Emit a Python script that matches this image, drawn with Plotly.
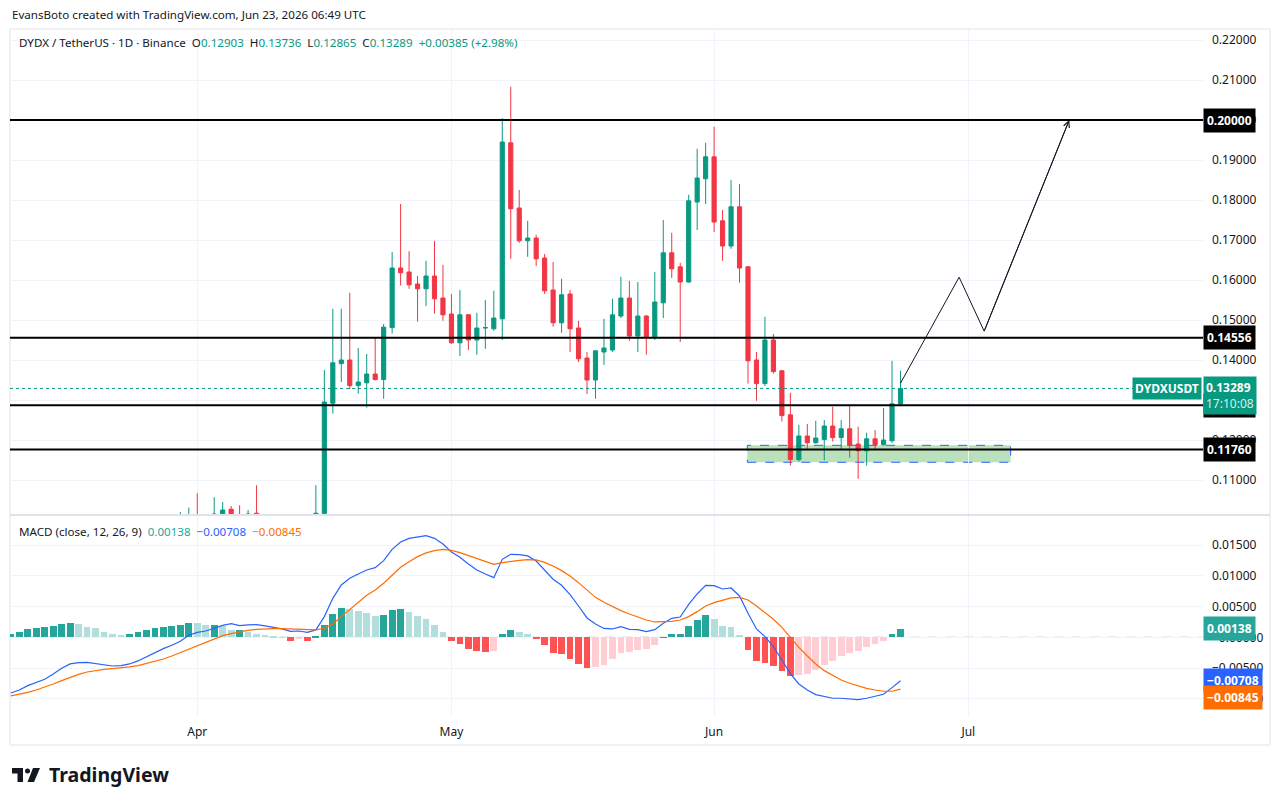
import plotly.graph_objects as go
import pandas as pd

# ---------------- data ----------------
dates = pd.date_range("2026-03-10", "2026-06-23", freq="D")

opens = [
    .0905, .0918, .0932, .0948, .0955, .0963, .0978, .0990, .0985, .0975, .0970, .0962, .0968, .0972, .0980, .0990, .0996, .0992, .1000, .0998, .1002, .1005,
    .1008, .0998, .1000, .1013, .1027, .1013, .1010, .1017, .1005, .0990, .0985, .0980, .0975, .0990, .0998, .1016, .1292, .1391, .1400, .1336, .1343, .1365, .1351, .1481, .1630, .1620, .1590, .1578, .1610, .1555,
    .1515, .1443, .1513, .1450, .1480, .1478, .1503, .1943, .1780, .1698, .1705, .1655, .1575, .1493, .1565, .1480, .1405, .1350, .1420, .1425, .1510, .1555, .1460, .1510, .1458, .1543, .1668, .1633, .1595, .1795, .1853,
    .1908, .1748, .1685, .1783, .1633, .1400, .1341, .1450, .1373, .1263, .1151, .1210, .1193, .1201, .1235, .1206, .1228, .1190, .1173, .1203, .1188, .1198, .12903]
highs = [
    .0925, .0940, .0955, .0962, .0972, .0985, .0998, .1005, .0995, .0990, .0982, .0978, .0980, .0988, .0998, .1005, .1008, .1006, .1008, .1008, .1020, .1031,
    .1067, .1006, .1057, .1045, .1035, .1037, .1025, .1087, .1008, .1002, .0998, .0992, .0995, .1005, .1087, .1375, .1528, .1528, .1568, .1430, .1415, .1455, .1490, .1670, .1790, .1672, .1610, .1648, .1698, .1638,
    .1565, .1575, .1515, .1518, .1550, .1573, .2005, .2083, .1825, .1748, .1713, .1665, .1645, .1603, .1575, .1498, .1420, .1423, .1503, .1553, .1608, .1598, .1595, .1512, .1620, .1750, .1718, .1643, .1813, .1928, .1943,
    .1983, .1775, .1850, .1840, .1635, .1420, .1508, .1465, .1375, .1318, .1238, .1240, .1248, .1250, .1283, .1250, .1286, .1233, .1218, .1225, .1280, .1398, .13736]
lows = [
    .0895, .0910, .0925, .0938, .0948, .0955, .0970, .0975, .0968, .0962, .0955, .0950, .0958, .0965, .0972, .0982, .0985, .0984, .0990, .0988, .0990, .0995,
    .0992, .0985, .0994, .1005, .1000, .1002, .1001, .0995, .0980, .0975, .0970, .0965, .0968, .0978, .0990, .1005, .1266, .1345, .1327, .1316, .1281, .1349, .1303, .1466, .1586, .1578, .1496, .1535, .1516, .1498,
    .1440, .1410, .1425, .1413, .1428, .1473, .1450, .1653, .1693, .1658, .1635, .1565, .1483, .1468, .1420, .1395, .1315, .1303, .1388, .1420, .1505, .1448, .1420, .1413, .1450, .1505, .1605, .1445, .1593, .1725, .1790,
    .1720, .1648, .1678, .1593, .1341, .1298, .1335, .1366, .1246, .1136, .1146, .1178, .1191, .1149, .1196, .1176, .1156, .1103, .1136, .1176, .1186, .1193, .12865]
closes = [
    .0918, .0932, .0948, .0955, .0963, .0978, .0990, .0985, .0975, .0970, .0962, .0968, .0972, .0980, .0990, .0996, .0992, .1000, .0998, .1002, .1005, .1008,
    .0998, .1000, .1015, .1025, .1011, .1010, .1015, .1005, .0990, .0985, .0980, .0975, .0990, .0998, .1017, .1295, .1393, .1400, .1336, .1345, .1365, .1351, .1482, .1630, .1618, .1588, .1578, .1610, .1553, .1513,
    .1443, .1513, .1450, .1480, .1481, .1505, .1945, .1778, .1698, .1705, .1653, .1573, .1493, .1563, .1478, .1403, .1350, .1423, .1430, .1513, .1555, .1460, .1510, .1458, .1545, .1668, .1628, .1595, .1798, .1855, .1908,
    .1745, .1685, .1783, .1630, .1398, .1341, .1450, .1371, .1261, .1151, .1210, .1193, .1205, .1235, .1206, .1228, .1186, .1173, .1203, .1188, .1200, .12904, .13289]

macd_line = [
    -0.00907, -0.00858, -0.00787, -0.00733, -0.00684, -0.00597, -0.00505, -0.00434, -0.00413, -0.00407, -0.00423, -0.00451, -0.00467, -0.00461, -0.00434, -0.00385, -0.00315, -0.00250, -0.00185, -0.00130, -0.00065, 0.00033,
    0.00081, 0.00103, 0.00147, 0.00195, 0.00223, 0.00190, 0.00201, 0.00206, 0.00185, 0.00163, 0.00136, 0.00098, 0.00103, 0.00081, 0.00120, 0.00337, 0.00635, 0.00852, 0.00961, 0.01031, 0.01097, 0.01135, 0.01249, 0.01433, 0.01553, 0.01612, 0.01640, 0.01656, 0.01612, 0.01520,
    0.01390, 0.01303, 0.01194, 0.01097, 0.01031, 0.00972, 0.01270, 0.01352, 0.01346, 0.01325, 0.01243, 0.01097, 0.00945, 0.00847, 0.00695, 0.00510, 0.00315, 0.00217, 0.00144, 0.00136, 0.00174, 0.00130, 0.00125, 0.00092, 0.00125, 0.00228, 0.00309, 0.00331, 0.00537, 0.00706, 0.00847,
    0.00842, 0.00787, 0.00804, 0.00673, 0.00391, 0.00136, 0.00011, -0.00152, -0.00369, -0.00592, -0.00760, -0.00858, -0.00934, -0.00961, -0.00993, -0.00993, -0.00999, -0.01015, -0.00993, -0.00966, -0.00928, -0.00820, -0.00708]
signal_line = [
    -0.00955, -0.00928, -0.00896, -0.00858, -0.00814, -0.00760, -0.00706, -0.00651, -0.00603, -0.00565, -0.00537, -0.00521, -0.00510, -0.00499, -0.00483, -0.00461, -0.00429, -0.00391, -0.00353, -0.00304, -0.00250, -0.00195,
    -0.00141, -0.00087, -0.00027, 0.00027, 0.00060, 0.00092, 0.00114, 0.00130, 0.00141, 0.00141, 0.00141, 0.00136, 0.00130, 0.00125, 0.00120, 0.00147, 0.00217, 0.00337, 0.00456, 0.00565, 0.00684, 0.00771, 0.00880, 0.01010, 0.01140, 0.01232, 0.01314, 0.01374, 0.01412, 0.01433,
    0.01417, 0.01379, 0.01330, 0.01281, 0.01232, 0.01189, 0.01216, 0.01238, 0.01254, 0.01265, 0.01260, 0.01221, 0.01162, 0.01086, 0.00999, 0.00890, 0.00771, 0.00651, 0.00570, 0.00500, 0.00434, 0.00380, 0.00331, 0.00282, 0.00250, 0.00250, 0.00261, 0.00282, 0.00337, 0.00418, 0.00510,
    0.00565, 0.00608, 0.00641, 0.00651, 0.00608, 0.00510, 0.00402, 0.00293, 0.00163, 0.00000, -0.00163, -0.00304, -0.00434, -0.00543, -0.00624, -0.00695, -0.00749, -0.00793, -0.00831, -0.00858, -0.00879, -0.00879, -0.00845]
histogram = [
    0.00054, 0.00087, 0.00136, 0.00152, 0.00168, 0.00185, 0.00217, 0.00233, 0.00217, 0.00168, 0.00152, 0.00087, 0.00054, 0.00038, 0.00054, 0.00087, 0.00120, 0.00152, 0.00168, 0.00185, 0.00200, 0.00233,
    0.00230, 0.00195, 0.00202, 0.00185, 0.00120, 0.00122, 0.00087, 0.00054, 0.00038, 0.00010, 0.00005, -0.00054, -0.00016, -0.00054, 0.00010, 0.00200, 0.00380, 0.00478, 0.00461, 0.00429, 0.00396, 0.00347, 0.00364, 0.00445, 0.00461, 0.00413, 0.00347, 0.00299, 0.00200, 0.00087,
    -0.00054, -0.00103, -0.00185, -0.00217, -0.00233, -0.00230, 0.00054, 0.00120, 0.00087, 0.00054, -0.00022, -0.00120, -0.00250, -0.00266, -0.00347, -0.00429, -0.00494, -0.00478, -0.00445, -0.00347, -0.00250, -0.00245, -0.00200, -0.00185, -0.00120, 0.00005, 0.00054, 0.00056, 0.00185, 0.00282, 0.00364,
    0.00299, 0.00185, 0.00168, 0.00038, -0.00200, -0.00380, -0.00413, -0.00461, -0.00543, -0.00624, -0.00620, -0.00592, -0.00527, -0.00445, -0.00380, -0.00299, -0.00250, -0.00217, -0.00152, -0.00103, -0.00054, 0.00054, 0.00138]

levels = [0.20000, 0.14556, 0.12866, 0.11760]
level_labels = ["0.20000", "0.14556", "0.12866", "0.11760"]
zone_x = ["2026-06-04 22:00", "2026-07-06 00:00"]
zone_y = [0.11443, 0.11867]
path_x = ["2026-06-23 00:00", "2026-06-29 22:00", "2026-07-02 21:00", "2026-07-12 22:00"]
path_y = [0.1342, 0.1607, 0.1472, 0.2000]
price_ticks = [0.11, 0.12, 0.13, 0.14, 0.15, 0.16, 0.17, 0.18, 0.19, 0.20, 0.21, 0.22]
macd_ticks = [-0.01, -0.005, 0.0, 0.005, 0.01, 0.015]
macd_tick_text = ["\u22120.01000", "\u22120.00500", "\u22120.00000", "0.00500", "0.01000", "0.01500"]
month_ticks = ["2026-04-01", "2026-05-01", "2026-06-01", "2026-07-01"]
month_labels = ["Apr", "May", "Jun", "Jul"]
last_price = 0.13289

# ---------------- styling ----------------
GREEN = "#089981"
RED = "#f23645"
HG, HGL, HR, HRL = "#26a69a", "#b2dfdb", "#ff5252", "#ffcdd2"
BLUE, ORANGE = "#2962ff", "#ff6d00"
TXT = "#131722"
GRID = "#f0f3fa"
FONT = "Noto Sans"

W, H = 1280, 805
L, R, T, B = 10, 1203, 30, 717
SPLIT_Y = 515
split = (B - SPLIT_Y) / (B - T)


def px(x, y):
    return (x - L) / (R - L), (B - y) / (B - T)


hist_colors = []
for i, v in enumerate(histogram):
    prev = histogram[i - 1] if i > 0 else v
    if v >= 0:
        hist_colors.append(HG if v >= prev else HGL)
    else:
        hist_colors.append(HR if v <= prev else HRL)

fig = go.Figure()
fig.add_trace(go.Candlestick(
    x=dates, open=opens, high=highs, low=lows, close=closes,
    increasing=dict(line=dict(color=GREEN, width=1), fillcolor=GREEN),
    decreasing=dict(line=dict(color=RED, width=1), fillcolor=RED),
    whiskerwidth=0, xaxis="x", yaxis="y", showlegend=False, hoverinfo="skip"))
fig.add_trace(go.Scatter(x=path_x, y=path_y, mode="lines",
                         line=dict(color="#131722", width=1), xaxis="x", yaxis="y",
                         showlegend=False, hoverinfo="skip"))
fig.add_trace(go.Bar(x=dates, y=histogram, marker=dict(color=hist_colors, line=dict(width=0)),
                     width=86400000 * 0.8, xaxis="x2", yaxis="y2", showlegend=False, hoverinfo="skip"))
fig.add_trace(go.Scatter(x=dates, y=macd_line, mode="lines", line=dict(color=BLUE, width=1.2),
                         xaxis="x2", yaxis="y2", showlegend=False, hoverinfo="skip"))
fig.add_trace(go.Scatter(x=dates, y=signal_line, mode="lines", line=dict(color=ORANGE, width=1.2),
                         xaxis="x2", yaxis="y2", showlegend=False, hoverinfo="skip"))

apr1 = pd.Timestamp("2026-04-01")
xr = [apr1 + pd.Timedelta(days=-22.1), apr1 + pd.Timedelta(days=118.7)]

shapes = []
# frame and separators
fx0, fy0 = px(10, 29)
fx1, fy1 = px(1270, 745)
shapes.append(dict(type="rect", xref="paper", yref="paper", x0=fx0, x1=fx1, y0=fy1, y1=fy0,
                   line=dict(color="#e0e3eb", width=1), layer="below"))
sx0, sy = px(10, SPLIT_Y)
sx1, _ = px(1270, SPLIT_Y)
shapes.append(dict(type="line", xref="paper", yref="paper", x0=sx0, x1=sx1, y0=sy, y1=sy,
                   line=dict(color="#e0e3eb", width=2)))
# zone
shapes.append(dict(type="rect", xref="x", yref="y", x0=zone_x[0], x1=zone_x[1], y0=zone_y[0], y1=zone_y[1],
                   fillcolor="rgba(76,175,80,0.38)", line=dict(color=BLUE, width=1, dash="dash"), layer="below"))
# levels
for lv in levels:
    shapes.append(dict(type="line", xref="paper", yref="y", x0=0, x1=1, y0=lv, y1=lv,
                       line=dict(color="#000000", width=2)))
# last price dotted
shapes.append(dict(type="line", xref="paper", yref="y", x0=0, x1=1, y0=last_price, y1=last_price,
                   line=dict(color=GREEN, width=1, dash="dot")))
# macd zero
shapes.append(dict(type="line", xref="paper", yref="y2", x0=0, x1=1, y0=0, y1=0,
                   line=dict(color="#a3a6af", width=1, dash="dash"), layer="below"))


# logo glyph
def path_px(pts):
    s = ""
    for i, (x, y) in enumerate(pts):
        a, b = px(x, y)
        s += ("M" if i == 0 else "L") + f"{a:.5f},{b:.5f} "
    return s + "Z"


shapes.append(dict(type="path", xref="paper", yref="paper",
                   path=path_px([(12, 768), (23, 768), (23, 782), (17.5, 782), (17.5, 773.5), (12, 773.5)]),
                   fillcolor="#131722", line=dict(width=0)))
cx0, cy0 = px(25, 768.5)
cx1, cy1 = px(30, 773.5)
shapes.append(dict(type="circle", xref="paper", yref="paper", x0=cx0, x1=cx1, y0=cy1, y1=cy0,
                   fillcolor="#131722", line=dict(width=0)))
shapes.append(dict(type="path", xref="paper", yref="paper",
                   path=path_px([(33, 768), (40, 768), (34, 782), (27.5, 782)]),
                   fillcolor="#131722", line=dict(width=0)))

ann = []


def text_px(x, y, text, size=12, color=TXT, anchor="left", bold=False):
    a, b = px(x, y)
    ann.append(dict(xref="paper", yref="paper", x=a, y=b, xanchor=anchor, yanchor="middle",
                    text=("<b>%s</b>" % text) if bold else text, showarrow=False,
                    font=dict(family=FONT, size=size, color=color)))


text_px(10, 14, "EvansBoto created with TradingView.com, Jun 23, 2026 06:49 UTC", size=11.6)
g = GREEN
sp = "\u00a0\u00a0"
chg = closes[-1] - closes[-2]
hdr = ("DYDX / TetherUS · 1D · Binance" + sp +
       f"O<span style='color:{g}'>{opens[-1]:.5f}</span>" + sp +
       f"H<span style='color:{g}'>{highs[-1]:.5f}</span>" + sp +
       f"L<span style='color:{g}'>{lows[-1]:.5f}</span>" + sp +
       f"C<span style='color:{g}'>{closes[-1]:.5f}</span>" + sp +
       f"<span style='color:{g}'>+{chg:.5f} (+{chg/closes[-2]*100:.2f}%)</span>")
text_px(17, 42, hdr, size=11.6)
mh = ("MACD (close, 12, 26, 9)" + sp +
      f"<span style='color:{HG}'>{histogram[-1]:.5f}</span>" + sp +
      f"<span style='color:{BLUE}'>\u2212{abs(macd_line[-1]):.5f}</span>" + sp +
      f"<span style='color:{ORANGE}'>\u2212{abs(signal_line[-1]):.5f}</span>")
text_px(17, 531, mh, size=11.6)
text_px(47, 775, "TradingView", size=19.5, bold=True)

# right-side labels
for lv, lab in zip(levels, level_labels):
    ann.append(dict(xref="paper", yref="y", x=1, y=lv, xanchor="left", yanchor="middle", text="<b>%s</b>" % lab,
                    showarrow=False, bgcolor="#000000", borderpad=3,
                    font=dict(family=FONT, size=12, color="#ffffff")))
ann.append(dict(xref="paper", yref="y", x=1, y=last_price, xanchor="left", yanchor="middle",
                yshift=-7, text=f"<b>{last_price:.5f}</b><br><span style='color:#d5efe9'>17:10:08</span>",
                showarrow=False, bgcolor=GREEN, borderpad=2, align="left",
                font=dict(family=FONT, size=12, color="#ffffff")))
ann.append(dict(xref="paper", yref="y", x=1, y=last_price, xanchor="right", yanchor="middle", xshift=-1,
                text="<b>DYDXUSDT</b>", showarrow=False, bgcolor=GREEN, borderpad=2,
                font=dict(family=FONT, size=12, color="#ffffff")))
for val, col, shift in [(histogram[-1], HG, 0), (macd_line[-1], BLUE, 0), (signal_line[-1], ORANGE, -8)]:
    s = (f"{val:.5f}" if val >= 0 else "\u2212" + f"{abs(val):.5f}")
    ann.append(dict(xref="paper", yref="y2", x=1, y=val, xanchor="left", yanchor="middle", yshift=shift,
                    text="<b>%s</b>" % s, showarrow=False, bgcolor=col, borderpad=3,
                    font=dict(family=FONT, size=12, color="#ffffff")))
# arrow head on the projection path
ann.append(dict(xref="x", yref="y", x=path_x[-1], y=path_y[-1], axref="x", ayref="y",
                ax=path_x[-2], ay=path_y[-2], showarrow=True, arrowhead=5, arrowsize=1.2,
                arrowwidth=1, arrowcolor="#131722", text="", standoff=0))

fig.update_layout(
    width=W, height=H, paper_bgcolor="#ffffff", plot_bgcolor="#ffffff",
    margin=dict(l=L, r=W - R, t=T, b=H - B),
    showlegend=False, bargap=0, shapes=shapes, annotations=ann,
    font=dict(family=FONT, size=12, color=TXT),
    xaxis=dict(domain=[0, 1], anchor="y", type="date", range=xr, rangeslider=dict(visible=False),
               showticklabels=False, tickvals=month_ticks, showgrid=True, gridcolor=GRID, zeroline=False,
               showline=False, ticks=""),
    xaxis2=dict(domain=[0, 1], anchor="y2", type="date", range=xr, matches="x",
                tickvals=month_ticks, ticktext=month_labels, showgrid=True, gridcolor=GRID,
                zeroline=False, showline=False, ticks="", ticklabelstandoff=6,
                tickfont=dict(family=FONT, size=12, color=TXT)),
    yaxis=dict(domain=[split, 1], anchor="x", side="right", range=[0.10125, 0.2225],
               tickvals=price_ticks, tickformat=".5f", showgrid=True, gridcolor=GRID, zeroline=False,
               ticks="", ticklabelstandoff=8, tickfont=dict(family=FONT, size=12, color=TXT)),
    yaxis2=dict(domain=[0, split], anchor="x2", side="right", range=[-0.01298, 0.01992],
                tickvals=macd_ticks, ticktext=macd_tick_text, showgrid=True, gridcolor=GRID,
                zeroline=False, ticks="", ticklabelstandoff=8,
                tickfont=dict(family=FONT, size=12, color=TXT)),
)

fig.write_html("out.html")
